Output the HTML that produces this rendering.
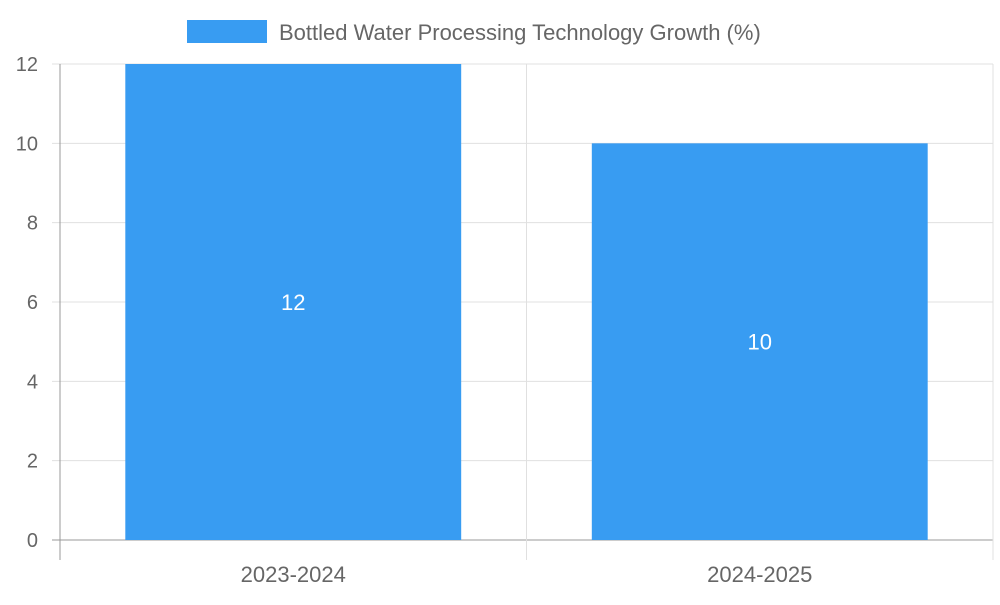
<!DOCTYPE html>
<html><head><meta charset="utf-8"><style>
body{margin:0;background:#fff;}
svg text{font-family:"Liberation Sans",sans-serif;}
</style></head><body>
<svg id="chart" width="1000" height="600" xmlns="http://www.w3.org/2000/svg">
<g>
<rect x="187" y="20" width="80" height="23" fill="#389cf2"/>
<text x="279" y="40" font-size="22" fill="#666">Bottled Water Processing Technology Growth (%)</text>
</g>
<g id="grid"></g><g id="bars"></g><g id="axes"></g>
</svg>
<script>
const categories=["2023-2024","2024-2025"];
const values=[12,10];
const yTicks=[0,2,4,6,8,10,12];
const L=60,R=993,T=64,B=540,yMax=12;
const ns="http://www.w3.org/2000/svg";
const y=v=>B-(B-T)*v/yMax;
const cw=(R-L)/categories.length;
const x=i=>L+cw*(i+0.5);
function mk(tag,attrs,parent){const e=document.createElementNS(ns,tag);for(const k in attrs)e.setAttribute(k,attrs[k]);document.getElementById(parent).appendChild(e);return e;}
yTicks.forEach(t=>{
 const g=mk('line',{x1:L-8,x2:R,y1:y(t),y2:y(t),stroke:t===0?'#999':'#e0e0e0','stroke-width':1},'grid');
 
 
 const lb=mk('text',{x:L-22,y:y(t)+7,'font-size':20,fill:'#666','text-anchor':'end'},'axes');
 lb.textContent=t;
 
 
});
for(let i=0;i<=categories.length;i++){
 const gl=mk('line',{x1:L+cw*i,x2:L+cw*i,y1:T,y2:B+20,stroke:i===0?'#999':'#e0e0e0','stroke-width':1},'grid');
 
 
}
const bw=cw*0.72;
categories.forEach((c,i)=>{
 const r=mk('rect',{x:x(i)-bw/2,y:y(values[i]),width:bw,height:B-y(values[i]),fill:'#389cf2'},'bars');
 
 
 const v=mk('text',{x:x(i),y:(y(values[i])+B)/2+8,'font-size':22,fill:'#fff','text-anchor':'middle'},'bars');
 v.textContent=values[i];
 
 
 const xl=mk('text',{x:x(i),y:582,'font-size':22,fill:'#666','text-anchor':'middle'},'axes');
 xl.textContent=c;
 
 
});
</script>
</body></html>
